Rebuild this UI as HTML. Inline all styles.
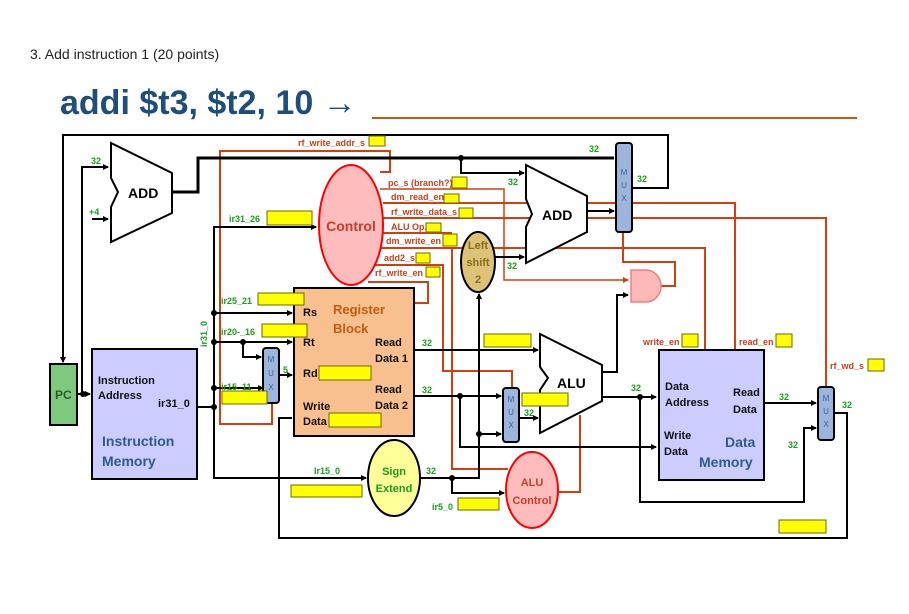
<!DOCTYPE html>
<html><head><meta charset="utf-8"><style>
html,body{margin:0;padding:0;background:#fff;}
svg{display:block;font-family:"Liberation Sans",sans-serif;}
.g{fill:#1a9e1a;font-size:9px;font-weight:bold;}
.r{fill:#c8401a;font-size:9px;font-weight:bold;}
.k{fill:#111;font-size:11px;font-weight:bold;}
</style></head><body>
<svg width="909" height="614" viewBox="0 0 909 614" xmlns="http://www.w3.org/2000/svg">
<defs>
<marker id="a" markerWidth="6" markerHeight="6" refX="5" refY="3" orient="auto" markerUnits="userSpaceOnUse"><path d="M0,0 L6,3 L0,6 z" fill="#000"/></marker>
<marker id="ar" markerWidth="6" markerHeight="6" refX="5" refY="3" orient="auto" markerUnits="userSpaceOnUse"><path d="M0,0 L6,3 L0,6 z" fill="#d04010"/></marker>
</defs>
<text x="30" y="59" font-size="14" fill="#222">3.  Add instruction 1 (20 points)</text>
<text x="60" y="114" font-size="34" font-weight="bold" fill="#1f4e79">addi $t3, $t2, 10 →</text>
<line x1="372" y1="118" x2="857" y2="118" stroke="#c55a11" stroke-width="2"/>

<g fill="none" stroke="#d04010" stroke-width="2">
<polyline points="380,172 390,172 390,151 220,151 220,424 272,424 272,403"/>
<polyline points="380,189 504,189 504,280 628,280" stroke-width="1.5" marker-end="url(#ar)"/>
<polyline points="383,203 735,203 735,350"/>
<polyline points="383,218 826,218 826,387"/>
<polyline points="383,233 452,233"/>
<polyline points="380,248 705,248 705,350"/>
<polyline points="452,248 452,469 508,469"/>
<polyline points="375,265 443,265 443,371 512,371 512,388"/>
<polyline points="368,282 428,282 428,303 414,303"/>
<polyline points="623,232 623,262 675,262 675,286 661,286"/>
<polyline points="558,492 580,492 580,415"/>
</g>

<g fill="none" stroke="#000" stroke-width="2">
<polyline points="632,188 668,188 668,135 63,135 63,362" marker-end="url(#a)"/>
<polyline points="82,394 82,167 108,167" marker-end="url(#a)"/>
<polyline points="92,219 108,219" marker-end="url(#a)"/>
<polyline points="77,394 90,394" marker-end="url(#a)"/>
<polyline points="172,192 198,192 198,158 614,158" stroke-width="3"/>
<polyline points="461,158 461,173 524,173" marker-end="url(#a)"/>
<polyline points="587,211 614,211" marker-end="url(#a)"/>
<polyline points="495,257 524,257" marker-end="url(#a)"/>
<polyline points="213,227 316,227" marker-end="url(#a)"/>
<polyline points="197,407 214,407"/>
<polyline points="214,227 214,478 366,478" marker-end="url(#a)"/>
<polyline points="214,313 292,313" marker-end="url(#a)"/>
<polyline points="214,342 292,342" marker-end="url(#a)"/>
<polyline points="243,342 243,357 261,357" marker-end="url(#a)"/>
<polyline points="214,388 263,388" marker-end="url(#a)"/>
<polyline points="279,375 292,375" marker-end="url(#a)"/>
<polyline points="292,418 279,418 279,538 847,538 847,413 834,413"/>
<polyline points="414,350 538,350" marker-end="url(#a)"/>
<polyline points="414,396 501,396" marker-end="url(#a)"/>
<polyline points="460,396 460,447 656,447" marker-end="url(#a)"/>
<polyline points="519,418 538,418" marker-end="url(#a)"/>
<polyline points="420,478 479,478 479,294" marker-end="url(#a)"/>
<polyline points="479,434 501,434" marker-end="url(#a)"/>
<polyline points="452,478 452,493 504,493" marker-end="url(#a)"/>
<polyline points="602,372 617,372 617,295 628,295" marker-end="url(#a)"/>
<polyline points="602,397 656,397" marker-end="url(#a)"/>
<polyline points="640,397 640,502 804,502 804,428 816,428" marker-end="url(#a)"/>
<polyline points="764,403 816,403" marker-end="url(#a)"/>
</g>
<g fill="#000">
<circle cx="83" cy="394" r="3"/><circle cx="461" cy="158" r="3"/><circle cx="214" cy="313" r="3"/>
<circle cx="214" cy="342" r="3"/><circle cx="243" cy="342" r="3"/><circle cx="214" cy="388" r="3"/>
<circle cx="214" cy="407" r="3"/><circle cx="460" cy="396" r="3"/><circle cx="479" cy="434" r="3"/>
<circle cx="452" cy="478" r="3"/><circle cx="640" cy="397" r="3"/>
</g>

<rect x="50" y="364" width="27" height="61" fill="#7fc97f" stroke="#000" stroke-width="2"/>
<text x="55" y="399" font-size="12" font-weight="bold" fill="#2d5a2d">PC</text>
<polygon points="111,143 172,173 172,213 111,242 111,207 118,192 111,178" fill="#fff" stroke="#000" stroke-width="2"/>
<text x="128" y="198" font-size="14" font-weight="bold">ADD</text>
<rect x="92" y="349" width="105" height="130" fill="#ccccff" stroke="#000" stroke-width="2"/>
<text x="98" y="384" class="k" font-size="10">Instruction</text>
<text x="98" y="399" class="k" font-size="10">Address</text>
<text x="158" y="407" class="k" font-size="10">ir31_0</text>
<text x="102" y="446" font-size="14" font-weight="bold" fill="#2e5c8a">Instruction</text>
<text x="102" y="466" font-size="14" font-weight="bold" fill="#2e5c8a">Memory</text>
<ellipse cx="351" cy="225" rx="32" ry="60" fill="#ffbcbc" stroke="#f00" stroke-width="2"/>
<text x="351" y="231" text-anchor="middle" font-size="14" font-weight="bold" fill="#c0402a">Control</text>
<rect x="294" y="288" width="120" height="148" fill="#f9c08f" stroke="#000" stroke-width="2"/>
<text x="333" y="314" font-size="13" font-weight="bold" fill="#c55a11">Register</text>
<text x="333" y="333" font-size="13" font-weight="bold" fill="#c55a11">Block</text>
<g class="k" font-size="10">
<text x="303" y="316">Rs</text><text x="303" y="346">Rt</text><text x="303" y="377">Rd</text>
<text x="303" y="410">Write</text><text x="303" y="425">Data</text>
<text x="375" y="346">Read</text><text x="375" y="362">Data 1</text>
<text x="375" y="393">Read</text><text x="375" y="409">Data 2</text>
</g>
<rect x="263" y="348" width="16" height="55" rx="3" fill="#9db4dc" stroke="#000" stroke-width="2"/>
<text x="271" y="362" text-anchor="middle" font-size="8" fill="#3a5fa0">M</text><text x="271" y="376" text-anchor="middle" font-size="8" fill="#3a5fa0">U</text><text x="271" y="390" text-anchor="middle" font-size="8" fill="#3a5fa0">X</text>
<ellipse cx="394" cy="478" rx="26" ry="38" fill="#ffff99" stroke="#000" stroke-width="2"/>
<text x="394" y="475" text-anchor="middle" font-size="11" font-weight="bold" fill="#1a9e1a">Sign</text>
<text x="394" y="492" text-anchor="middle" font-size="11" font-weight="bold" fill="#1a9e1a">Extend</text>
<ellipse cx="478" cy="262" rx="17" ry="30" fill="#dcc378" stroke="#000" stroke-width="2"/>
<text x="478" y="249" text-anchor="middle" font-size="11" font-weight="bold" fill="#8a6d1a">Left</text>
<text x="478" y="266" text-anchor="middle" font-size="11" font-weight="bold" fill="#8a6d1a">shift</text>
<text x="478" y="283" text-anchor="middle" font-size="11" font-weight="bold" fill="#8a6d1a">2</text>
<polygon points="526,165 587,196 587,232 526,263 526,227 532,214 526,199" fill="#fff" stroke="#000" stroke-width="2"/>
<text x="542" y="220" font-size="14" font-weight="bold">ADD</text>
<rect x="616" y="143" width="16" height="89" rx="3" fill="#9db4dc" stroke="#000" stroke-width="2"/>
<text x="624" y="175" text-anchor="middle" font-size="8" fill="#3a5fa0">M</text><text x="624" y="188" text-anchor="middle" font-size="8" fill="#3a5fa0">U</text><text x="624" y="201" text-anchor="middle" font-size="8" fill="#3a5fa0">X</text>
<path d="M631,270 L646,270 A15,16 0 0 1 646,302 L631,302 Z" fill="#ffb8b8" stroke="#f08080" stroke-width="1.5"/>
<polygon points="540,334 602,365 602,401 540,433 540,390 548,378 540,367" fill="#fff" stroke="#000" stroke-width="2"/>
<text x="557" y="388" font-size="14" font-weight="bold">ALU</text>
<rect x="503" y="388" width="16" height="54" rx="3" fill="#9db4dc" stroke="#000" stroke-width="2"/>
<text x="511" y="402" text-anchor="middle" font-size="8" fill="#3a5fa0">M</text><text x="511" y="415" text-anchor="middle" font-size="8" fill="#3a5fa0">U</text><text x="511" y="428" text-anchor="middle" font-size="8" fill="#3a5fa0">X</text>
<ellipse cx="532" cy="490" rx="26" ry="38" fill="#ffbcbc" stroke="#f00" stroke-width="2"/>
<text x="532" y="486" text-anchor="middle" font-size="11" font-weight="bold" fill="#c0402a">ALU</text>
<text x="532" y="504" text-anchor="middle" font-size="11" font-weight="bold" fill="#c0402a">Control</text>
<rect x="659" y="350" width="105" height="130" fill="#ccccff" stroke="#000" stroke-width="2"/>
<g class="k" font-size="10">
<text x="665" y="390">Data</text><text x="665" y="406">Address</text>
<text x="733" y="396">Read</text><text x="733" y="413">Data</text>
<text x="664" y="439">Write</text><text x="664" y="455">Data</text>
</g>
<text x="725" y="447" font-size="14" font-weight="bold" fill="#2e5c8a">Data</text>
<text x="699" y="467" font-size="14" font-weight="bold" fill="#2e5c8a">Memory</text>
<rect x="818" y="387" width="16" height="53" rx="3" fill="#9db4dc" stroke="#000" stroke-width="2"/>
<text x="826" y="401" text-anchor="middle" font-size="8" fill="#3a5fa0">M</text><text x="826" y="414" text-anchor="middle" font-size="8" fill="#3a5fa0">U</text><text x="826" y="427" text-anchor="middle" font-size="8" fill="#3a5fa0">X</text>

<g fill="#ffff00" stroke="#6a6a00" stroke-width="1" stroke-dasharray="0">
<rect x="369" y="136" width="16" height="10"/><rect x="452" y="177" width="15" height="11"/>
<rect x="444" y="194" width="15" height="9"/><rect x="459" y="208" width="14" height="10"/>
<rect x="426" y="223" width="15" height="9"/><rect x="443" y="234" width="14" height="12"/>
<rect x="416" y="253" width="14" height="10"/><rect x="426" y="267" width="14" height="10"/>
<rect x="267" y="211" width="45" height="14"/><rect x="258" y="293" width="46" height="12"/>
<rect x="262" y="324" width="45" height="13"/><rect x="319" y="366" width="52" height="14"/>
<rect x="222" y="391" width="45" height="13"/><rect x="329" y="413" width="52" height="14"/>
<rect x="291" y="485" width="71" height="12"/><rect x="458" y="498" width="41" height="12"/>
<rect x="484" y="334" width="47" height="13"/><rect x="522" y="393" width="46" height="13"/>
<rect x="682" y="334" width="16" height="13"/><rect x="776" y="334" width="16" height="13"/>
<rect x="868" y="359" width="16" height="12"/><rect x="779" y="520" width="47" height="13"/>
</g>

<g class="r">
<text x="298" y="146">rf_write_addr_s</text>
<text x="388" y="186">pc_s (branch?)</text>
<text x="391" y="200">dm_read_en</text>
<text x="391" y="215">rf_write_data_s</text>
<text x="391" y="230">ALU Op.</text>
<text x="386" y="244">dm_write_en</text>
<text x="384" y="261">add2_s</text>
<text x="375" y="276">rf_write_en</text>
<text x="643" y="345">write_en</text>
<text x="739" y="345">read_en</text>
<text x="830" y="369">rf_wd_s</text>
</g>
<g class="g">
<text x="91" y="164">32</text><text x="89" y="215">+4</text>
<text x="229" y="222">ir31_26</text><text x="221" y="304">ir25_21</text>
<text x="221" y="335">ir20-_16</text><text x="221" y="390">ir15_11</text>
<text x="283" y="373">5</text>
<text x="422" y="346">32</text><text x="422" y="393">32</text>
<text x="314" y="474">Ir15_0</text><text x="426" y="474">32</text><text x="432" y="510">ir5_0</text>
<text x="589" y="152">32</text><text x="508" y="185">32</text><text x="637" y="182">32</text>
<text x="507" y="269">32</text><text x="524" y="416">32</text>
<text x="631" y="391">32</text><text x="779" y="400">32</text><text x="788" y="448">32</text>
<text x="842" y="408">32</text>
<text transform="translate(207,347) rotate(-90)">ir31_0</text>
</g>
</svg>
</body></html>
